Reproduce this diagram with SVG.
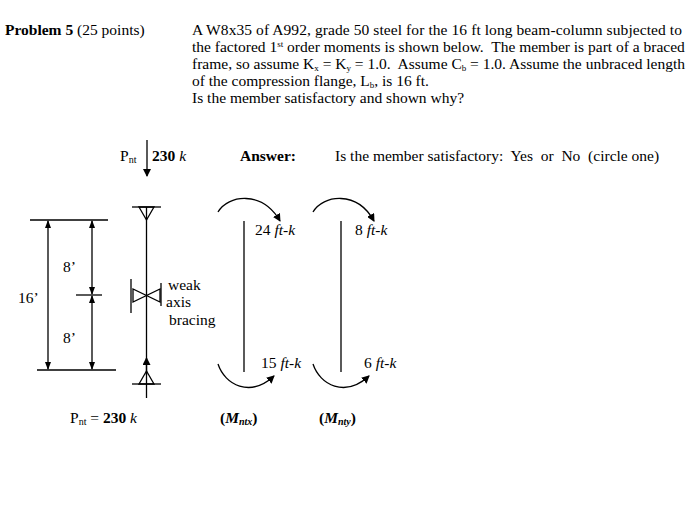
<svg xmlns="http://www.w3.org/2000/svg" width="700" height="526" viewBox="0 0 700 526">
<style>
text{font-family:"Liberation Serif",serif;font-size:15.5px;fill:#000;white-space:pre}
.l{stroke:#000;stroke-width:1.3;fill:none}
.b{font-weight:bold}
.i{font-style:italic}
</style>
<defs>
<marker id="a" markerWidth="8" markerHeight="8" refX="7" refY="4" orient="auto" markerUnits="userSpaceOnUse"><path d="M0,0 L8,4 L0,8 Z" fill="#000"/></marker>
<marker id="s" markerWidth="8" markerHeight="8" refX="7" refY="4" orient="auto-start-reverse" markerUnits="userSpaceOnUse"><path d="M0,1 L8,4 L0,7 Z" fill="#000"/></marker>
</defs>
<rect width="700" height="526" fill="#fff"/>
<g id="header">
<text x="5" y="35"><tspan class="b">Problem 5</tspan> (25 points)</text>
<text x="192" y="35" textLength="490">A W8x35 of A992, grade 50 steel for the 16 ft long beam-column subjected to</text>
<text x="192" y="52">the factored 1<tspan font-size="9" dy="-5">st</tspan><tspan dy="5"> order moments is shown below.  The member is part of a braced</tspan></text>
<text x="192" y="69">frame, so assume K<tspan font-size="9" dy="2">x</tspan><tspan dy="-2"> = K</tspan><tspan font-size="9" dy="2">y</tspan><tspan dy="-2"> = 1.0.  Assume C</tspan><tspan font-size="9" dy="2">b</tspan><tspan dy="-2"> = 1.0. Assume the unbraced length</tspan></text>
<text x="192" y="86">of the compression flange, L<tspan font-size="9" dy="2">b</tspan><tspan dy="-2">, is 16 ft.</tspan></text>
<text x="192" y="103">Is the member satisfactory and shown why?</text>
<text x="240" y="161" class="b">Answer:</text>
<text x="335" y="161">Is the member satisfactory:  Yes  or  No  (circle one)</text>
</g>
<g id="column">
<line class="l" x1="147" y1="140" x2="147" y2="176" marker-end="url(#a)"/>
<text x="120" y="161">P<tspan font-size="10" dy="2">nt</tspan><tspan dy="-2" x="152" class="b">230 </tspan><tspan class="i">k</tspan></text>
<line class="l" x1="132" y1="207" x2="161" y2="207"/>
<path class="l" d="M139,207 L154,207 L146.5,220 Z"/>
<line class="l" x1="146.5" y1="207" x2="146.5" y2="398"/>
<line class="l" x1="146.5" y1="375" x2="146.5" y2="358" marker-end="url(#a)"/>
<path class="l" d="M139,384 L154,384 L146.5,371 Z"/>
<line class="l" x1="132" y1="384" x2="161" y2="384"/>
<line class="l" x1="131" y1="279" x2="131" y2="313"/>
<line class="l" x1="161" y1="283" x2="161" y2="306"/>
<path class="l" d="M133,289 L133,302 L160,289 L160,302 Z"/>
<text x="168" y="290">weak</text>
<text x="166" y="307">axis</text>
<text x="169" y="325">bracing</text>
<text x="70" y="423">P<tspan font-size="10" dy="2">nt</tspan><tspan dy="-2"> = </tspan><tspan class="b">230 </tspan><tspan class="i">k</tspan></text>
</g>
<g id="dims">
<line class="l" x1="30" y1="220" x2="108" y2="220"/>
<line class="l" x1="37" y1="370" x2="116" y2="370"/>
<line class="l" x1="76" y1="295" x2="102" y2="295"/>
<line class="l" x1="48" y1="221" x2="48" y2="369" marker-start="url(#s)" marker-end="url(#s)"/>
<line class="l" x1="92" y1="221" x2="92" y2="294" marker-start="url(#s)" marker-end="url(#s)"/>
<line class="l" x1="92" y1="296" x2="92" y2="369" marker-start="url(#s)" marker-end="url(#s)"/>
<text x="63" y="272">8’</text>
<text x="18" y="303">16’</text>
<text x="63" y="343">8’</text>
</g>
<g id="moments">
<line class="l" x1="244" y1="221" x2="244" y2="372"/>
<line class="l" x1="341" y1="221" x2="341" y2="372"/>
<path class="l" d="M218,212 C228,195 262,190 280,221" marker-end="url(#a)"/>
<path class="l" d="M218,364 C225,385 250,398 274,376" marker-end="url(#a)"/>
<path class="l" d="M313,212 C323,195 357,190 374,221" marker-end="url(#a)"/>
<path class="l" d="M313,364 C320,385 345,398 369,376" marker-end="url(#a)"/>
<text x="255" y="235">24 <tspan class="i">ft-k</tspan></text>
<text x="261" y="368">15 <tspan class="i">ft-k</tspan></text>
<text x="355" y="235">8 <tspan class="i">ft-k</tspan></text>
<text x="364" y="368">6 <tspan class="i">ft-k</tspan></text>
<text x="220" y="423" class="b">(<tspan class="i">M<tspan font-size="10" dy="2">ntx</tspan></tspan><tspan dy="-2">)</tspan></text>
<text x="319" y="423" class="b">(<tspan class="i">M<tspan font-size="10" dy="2">nty</tspan></tspan><tspan dy="-2">)</tspan></text>
</g>
</svg>
